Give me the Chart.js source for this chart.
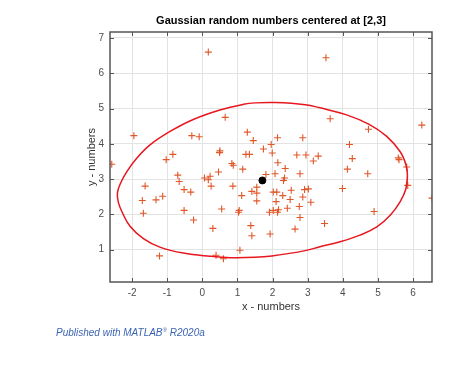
<!DOCTYPE html>
<html>
<head>
<meta charset="utf-8">
<script src="https://cdn.jsdelivr.net/npm/chart.js@4.4.1/dist/chart.umd.min.js"></script>
<style>
  html, body { margin:0; padding:0; background:#fff; }
  #wrap { position:relative; width:474px; height:386px; }
  #note { position:absolute; left:56px; top:327px; line-height:12px; font:italic 10px "Liberation Sans", Arial, sans-serif; color:#3c64b4; white-space:nowrap; }
  #note sup { font-size:6px; line-height:0; vertical-align:4px; }
</style>
</head>
<body>
<div id="wrap">
  <canvas id="c" width="474" height="386"></canvas>
  <div id="note">Published with MATLAB<sup>®</sup> R2020a</div>
</div>
<script>
// Gaussian scatter + error ellipse
const pointsX = [-1.95,-0.30,-0.09,0.65,1.28,1.45,0.50,0.49,1.24,1.34,-0.84,-1.03,-2.58,0.84,0.88,1.15,0.46,-0.70,-0.66,0.06,
  0.17,0.22,0.25,-1.63,0.87,-0.52,-0.33,-1.13,-1.32,-1.71,-1.68,-0.52,-0.25,0.55,1.03,1.05,1.12,0.30,1.38,1.41,
  1.07,-1.22,0.39,0.60,1.41,1.55,1.55,1.55,3.64,4.73,2.14,2.86,4.19,1.96,1.74,1.99,2.69,2.95,3.30,3.16,
  4.27,5.58,5.60,5.82,2.15,2.36,4.13,4.71,1.81,2.07,2.78,2.34,2.31,3.99,5.85,2.02,2.12,2.53,2.91,3.02,
  2.29,2.86,2.50,2.10,3.09,2.42,2.76,1.91,2.02,2.17,2.14,4.89,2.78,3.48,2.64,1.93,6.54,6.25,3.52,0.17];
const pointsY = [4.23,4.23,4.20,4.75,4.33,4.09,3.80,3.75,3.70,3.70,3.70,3.55,3.42,3.44,3.39,3.28,3.20,3.11,2.93,3.03,
  2.98,3.08,2.80,2.80,2.80,2.70,2.63,2.51,2.41,2.39,2.03,2.11,1.84,2.15,2.06,2.11,2.53,1.60,1.68,1.39,
  0.98,0.82,0.84,0.74,2.65,2.77,2.60,2.38,4.71,4.41,4.17,4.17,3.98,3.98,3.85,3.74,3.68,3.68,3.65,3.51,
  3.58,3.60,3.55,3.34,3.46,3.30,3.28,3.15,3.13,3.15,3.15,3.03,2.96,2.73,2.82,2.63,2.63,2.68,2.70,2.72,
  2.53,2.49,2.42,2.36,2.34,2.17,2.22,2.06,2.11,2.13,2.06,2.08,1.91,1.74,1.58,1.44,2.46,4.53,6.44,6.60];

const centerX = [1.71];
const centerY = [2.96];

// outline traced around once, starting and ending one point past the rightmost vertex
const ellipseX = [5.80,5.84,5.80,5.63,5.25,4.75,4.11,3.35,2.93,2.07,1.50,1.17,0.50,-0.26,-0.92,-1.49,-1.87,-2.15,-2.33,-2.42,
  -2.39,-2.28,-2.06,-1.68,-1.21,-0.54,0.22,0.80,1.50,1.98,2.93,3.35,3.92,4.49,4.97,5.35,5.63,5.80,5.84,5.80];
const ellipseY = [2.73,3.11,3.40,3.78,4.21,4.55,4.82,5.02,5.11,5.17,5.16,5.12,4.96,4.69,4.35,3.97,3.59,3.21,2.88,2.60,
  2.33,2.05,1.66,1.31,1.07,0.90,0.81,0.77,0.78,0.82,0.97,1.08,1.22,1.41,1.64,1.97,2.35,2.73,3.11,3.40];

const xTicks = [-2,-1,0,1,2,3,4,5,6];
const yTicks = [1,2,3,4,5,6,7];

const toXY = (xs, ys) => xs.map((v, i) => ({ x: v, y: ys[i] }));

Chart.defaults.font.family = "'Liberation Sans', Arial, sans-serif";

// axes box with inward tick marks, like MATLAB
const boxPlugin = {
  id: 'box',
  afterDatasetsDraw(chart) {
    const { ctx, chartArea: a, scales: { x, y } } = chart;
    ctx.save();
    ctx.strokeStyle = '#555';
    ctx.lineWidth = 1.5;
    ctx.strokeRect(a.left, a.top, a.right - a.left, a.bottom - a.top);
    ctx.lineWidth = 1;
    ctx.beginPath();
    xTicks.forEach(v => {
      const px = Math.round(x.getPixelForValue(v)) + 0.5;
      ctx.moveTo(px, a.bottom); ctx.lineTo(px, a.bottom - 4);
      ctx.moveTo(px, a.top); ctx.lineTo(px, a.top + 4);
    });
    yTicks.forEach(v => {
      const py = Math.round(y.getPixelForValue(v)) + 0.5;
      ctx.moveTo(a.left, py); ctx.lineTo(a.left + 4, py);
      ctx.moveTo(a.right, py); ctx.lineTo(a.right - 4, py);
    });
    ctx.stroke();
    ctx.restore();
  }
};

new Chart(document.getElementById('c').getContext('2d'), {
  type: 'scatter',
  data: {
    datasets: [
      { label: 'center', data: toXY(centerX, centerY), pointStyle: 'circle', pointRadius: 3.5,
        backgroundColor: '#000', borderColor: '#000', order: 0 },
      { label: 'ellipse', data: toXY(ellipseX, ellipseY), showLine: true, pointRadius: 0, tension: 0.4,
        borderColor: '#e8161e', borderWidth: 1.5, fill: false, order: 1 },
      { label: 'points', data: toXY(pointsX, pointsY), pointStyle: 'cross', pointRadius: 3.5,
        borderColor: '#e0582a', borderWidth: 1.1, clip: 0, order: 2 },
    ],
  },
  options: {
    responsive: false,
    animation: false,
    devicePixelRatio: 1,
    layout: { padding: { left: 0, right: 42, top: 0, bottom: 0 } },
    plugins: {
      legend: { display: false },
      tooltip: { enabled: false },
      title: {
        display: true, fullSize: false, text: 'Gaussian random numbers centered at [2,3]', color: '#000',
        font: { size: 11, weight: 'bold' }, padding: { top: 14, bottom: 4.8 },
      },
    },
    scales: {
      x: {
        type: 'linear', min: -2.63, max: 6.54,
        afterBuildTicks: s => { s.ticks = xTicks.map(v => ({ value: v })); },
        afterFit: s => { s.height = 104; },
        grid: { color: '#e3e3e3', drawTicks: false },
        border: { display: false },
        ticks: { color: '#4d4d4d', font: { size: 10 }, padding: 5 },
        title: { display: true, text: 'x - numbers', color: '#333', font: { size: 11 }, padding: { top: 0, bottom: 72.5 } },
      },
      y: {
        type: 'linear', min: 0.08, max: 7.17,
        afterBuildTicks: s => { s.ticks = yTicks.map(v => ({ value: v })); },
        afterFit: s => { s.width = 110; },
        grid: { color: '#e3e3e3', drawTicks: false },
        border: { display: false },
        ticks: { color: '#4d4d4d', font: { size: 10 }, padding: 6 },
        title: { display: true, text: 'y - numbers', color: '#333', font: { size: 11 }, padding: { top: 85, bottom: 0 } },
      },
    },
  },
  plugins: [boxPlugin],
});
</script>
</body>
</html>
